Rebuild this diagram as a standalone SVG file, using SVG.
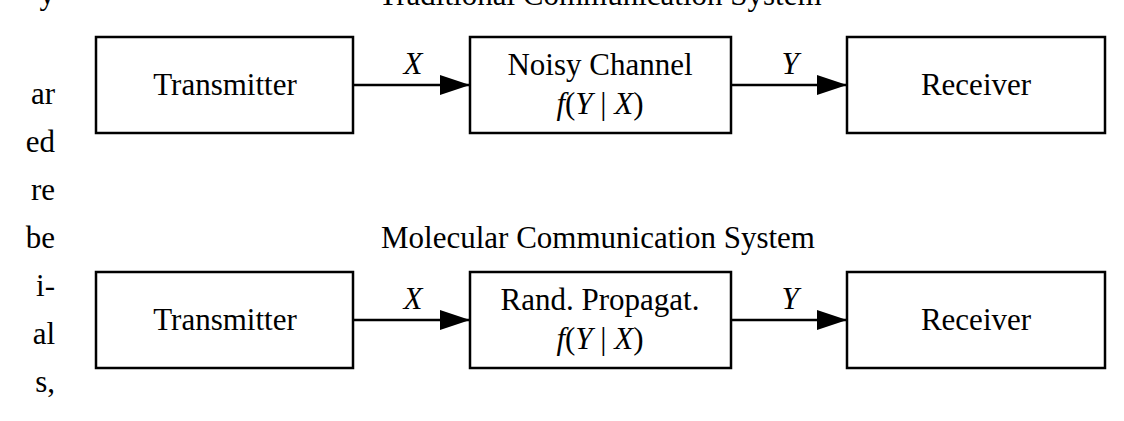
<svg xmlns="http://www.w3.org/2000/svg" width="1124" height="421" viewBox="0 0 1124 421">
<style>
text{font-family:"Liberation Serif",serif;fill:#000}
.b{fill:#fff;stroke:#000;stroke-width:2.5}
.t{font-size:31px;text-anchor:middle}
.l{stroke:#000;stroke-width:2.5;fill:none}
.side{font-size:31px;text-anchor:end}
</style>
<defs><marker id="a" markerWidth="12" markerHeight="10" refX="12" refY="5" orient="auto" markerUnits="userSpaceOnUse" viewBox="0 0 12 10"><path d="M0,0L12,5L0,10z" fill="#000"/></marker>
<marker id="ah" viewBox="0 0 30 20" refX="30" refY="10" markerWidth="30" markerHeight="20" orient="auto" markerUnits="userSpaceOnUse"><path d="M0,0L30,10L0,20z"/></marker></defs>
<g id="side">
<text class="side" x="55" y="4">y</text>
<text class="side" x="55" y="104">ar</text>
<text class="side" x="55" y="152">ed</text>
<text class="side" x="55" y="200">re</text>
<text class="side" x="55" y="248">be</text>
<text class="side" x="55" y="296">i-</text>
<text class="side" x="55" y="344">al</text>
<text class="side" x="55" y="392">s,</text>
</g>
<text class="t" x="600" y="5">Traditional Communication System</text>
<text class="t" x="598" y="248">Molecular Communication System</text>
<g id="tx1"><rect class="b" x="96" y="37" width="257" height="96"/><text class="t" x="225" y="95">Transmitter</text></g>
<g id="ch1"><rect class="b" x="470" y="37" width="261" height="96"/><text class="t" x="600" y="75">Noisy Channel</text><text class="t" x="600" y="114"><tspan font-style="italic">f</tspan>(<tspan font-style="italic">Y</tspan> | <tspan font-style="italic">X</tspan>)</text></g>
<g id="rx1"><rect class="b" x="847" y="37" width="258" height="96"/><text class="t" x="976" y="95">Receiver</text></g>
<g id="tx2"><rect class="b" x="96" y="272" width="257" height="96"/><text class="t" x="225" y="330">Transmitter</text></g>
<g id="ch2"><rect class="b" x="470" y="272" width="261" height="96"/><text class="t" x="600" y="310">Rand. Propagat.</text><text class="t" x="600" y="349"><tspan font-style="italic">f</tspan>(<tspan font-style="italic">Y</tspan> | <tspan font-style="italic">X</tspan>)</text></g>
<g id="rx2"><rect class="b" x="847" y="272" width="258" height="96"/><text class="t" x="976" y="330">Receiver</text></g>
<g id="connectors">
<line class="l" x1="353" y1="85" x2="470" y2="85" marker-end="url(#ah)"/>
<line class="l" x1="731" y1="85" x2="847" y2="85" marker-end="url(#ah)"/>
<line class="l" x1="353" y1="320" x2="470" y2="320" marker-end="url(#ah)"/>
<line class="l" x1="731" y1="320" x2="847" y2="320" marker-end="url(#ah)"/>
<text class="t" x="413" y="74" font-style="italic">X</text>
<text class="t" x="790" y="74" font-style="italic">Y</text>
<text class="t" x="413" y="309" font-style="italic">X</text>
<text class="t" x="790" y="309" font-style="italic">Y</text>
</g>
</svg>
